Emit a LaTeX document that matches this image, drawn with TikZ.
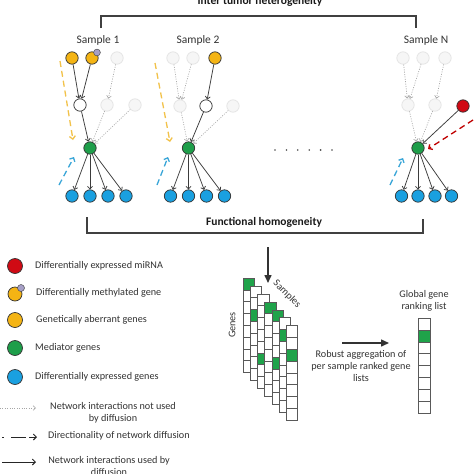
\documentclass[tikz,border=0pt]{standalone}
\usepackage{fontspec}
\setmainfont{Carlito}
\usetikzlibrary{arrows.meta}
\definecolor{cOrange}{HTML}{F4B414}
\definecolor{cGreen}{HTML}{1E9E4A}
\definecolor{cBlue}{HTML}{1AA0E0}
\definecolor{cRed}{HTML}{D00A14}
\definecolor{cPurple}{HTML}{A69FC6}
\definecolor{cYellowDash}{HTML}{F2C24A}
\definecolor{cCyanDash}{HTML}{3AA6D8}
\definecolor{cRedDash}{HTML}{C00000}
\definecolor{cLine}{HTML}{3C3C3C}
\definecolor{cCellGreen}{HTML}{1FA34A}
\tikzset{
  gene/.style={circle, minimum size=12.4pt, inner sep=0pt, draw=black!80, line width=0.7pt},
  og/.style={gene, fill=cOrange},
  gg/.style={gene, fill=cGreen},
  bg/.style={gene, fill=cBlue},
  rg/.style={gene, fill=cRed},
  wg/.style={gene, fill=white},
  fg/.style={gene, fill=gray!7, draw=gray!22},
  mg/.style={circle, minimum size=6.8pt, inner sep=0pt, draw=black!70, line width=0.5pt, fill=cPurple},
  edge/.style={draw=cLine, line width=0.75pt, -{Straight Barb[length=2.6pt,width=5pt]}},
  dedge/.style={draw=gray!70, line width=0.65pt, dash pattern=on 1pt off 1.4pt, -{Straight Barb[length=2.4pt,width=4.6pt]}},
  flowarrow/.style={line width=1.3pt, dash pattern=on 6pt off 4pt, -{Straight Barb[length=3pt,width=6pt]}},
  bracket/.style={draw=black!75, line width=1.3pt},
  cell/.style={draw=black!65, fill=white, line width=0.6pt},
  gcell/.style={draw=black!65, fill=cCellGreen, line width=0.6pt},
  lab/.style={font=\fontsize{11.5}{13}\selectfont, text=black!80, inner sep=0pt},
  head/.style={font=\fontsize{11.5}{13}\selectfont\bfseries, text=black!90, inner sep=0pt},
  txt/.style={font=\fontsize{10.2}{12.4}\selectfont, text=black!80, inner sep=0pt},
  bigarrow/.style={draw=black!80, line width=1.5pt, -{Triangle[length=8pt,width=7pt]}},
}
\begin{document}
\begin{tikzpicture}[x=1pt,y=-1pt]
\useasboundingbox (0,0) rectangle (474,474);
\fill[white] (0,0) rectangle (474,474);

% headings and brackets
\node[head] (hTop) at (260,1.5) {Inter tumor heterogeneity};
\draw[bracket] (101,28) -- (101,16) -- (416,16) -- (416,28);
\node[head] (hBot) at (264,222) {Functional homogeneity};
\draw[bracket] (87,217) -- (87,233) -- (423,233) -- (423,219);

% sample labels
\node[lab] (t1) at (98,40) {Sample 1};
\node[lab] (t2) at (198,40) {Sample 2};
\node[lab] (tN) at (426,40) {Sample N};

% ---------- Sample 1 ----------
\node[og] (s1o1) at (72,58) {};
\node[og] (s1o2) at (92,58) {};
\node[mg] (s1m) at (97,52.5) {};
\node[fg] (s1g1) at (117,58) {};
\node[wg] (s1w) at (80,105) {};
\node[fg] (s1g2) at (107,105) {};
\node[fg] (s1g3) at (135,105) {};
\node[gg] (s1c) at (90,148) {};
\foreach \k/\x in {1/72,2/90,3/108,4/126} \node[bg] (s1b\k) at (\x,196) {};
\draw[edge] (s1o1) -- (s1w);
\draw[edge] (s1o2) -- (s1w);
\draw[edge] (s1w) -- (s1c);
\draw[dedge] (s1g1) -- (s1g2);
\draw[dedge] (s1g2) -- (s1c);
\draw[dedge] (s1g3) -- (s1c);
\foreach \k in {1,...,4} \draw[edge] (s1c) -- (s1b\k);
\coordinate (y1a) at (60,61);
\coordinate (y1b) at (73,140);
\draw[flowarrow, cYellowDash] (y1a) -- (y1b);
\coordinate (c1a) at (59,185);
\coordinate (c1b) at (74,157);
\draw[flowarrow, cCyanDash] (c1a) -- (c1b);

% ---------- Sample 2 ----------
\node[fg] (s2g1) at (173,58) {};
\node[fg] (s2g2) at (193,58) {};
\node[og] (s2o) at (215,58) {};
\node[fg] (s2g3) at (180,106) {};
\node[wg] (s2w) at (206,106) {};
\node[fg] (s2g4) at (233,106) {};
\node[gg] (s2c) at (188.5,148) {};
\foreach \k/\x in {1/170.5,2/188.5,3/206.5,4/224.5} \node[bg] (s2b\k) at (\x,196) {};
\draw[dedge] (s2g1) -- (s2g3);
\draw[dedge] (s2g2) -- (s2g3);
\draw[edge] (s2o) -- (s2w);
\draw[edge] (s2w) -- (s2c);
\draw[dedge] (s2g3) -- (s2c);
\draw[dedge] (s2g4) -- (s2c);
\foreach \k in {1,...,4} \draw[edge] (s2c) -- (s2b\k);
\coordinate (y2a) at (155,63);
\coordinate (y2b) at (170,142);
\draw[flowarrow, cYellowDash] (y2a) -- (y2b);
\coordinate (c2a) at (157,185);
\coordinate (c2b) at (168,157);
\draw[flowarrow, cCyanDash] (c2a) -- (c2b);

% dots
\foreach \k in {0,...,5} \fill[black!70] (275+11.4*\k,150) circle (0.9);

% ---------- Sample N ----------
\node[fg] (sng1) at (403,58) {};
\node[fg] (sng2) at (423,58) {};
\node[fg] (sng3) at (445,58) {};
\node[fg] (sng4) at (408,105) {};
\node[fg] (sng5) at (435,105) {};
\node[rg] (snr) at (463,106) {};
\node[gg] (snc) at (418,148) {};
\foreach \k/\x in {1/401.5,2/418,3/435,4/451.5} \node[bg] (snb\k) at (\x,196) {};
\draw[dedge] (sng1) -- (sng4);
\draw[dedge] (sng2) -- (sng4);
\draw[dedge] (sng3) -- (sng5);
\draw[dedge] (sng4) -- (snc);
\draw[dedge] (sng5) -- (snc);
\draw[edge] (snr) -- (snc);
\foreach \k in {1,...,4} \draw[edge] (snc) -- (snb\k);
\coordinate (rNa) at (473,120);
\coordinate (rNb) at (428,149);
\draw[flowarrow, cRedDash] (rNa) -- (rNb);
\coordinate (cNa) at (390,185);
\coordinate (cNb) at (403,158);
\draw[flowarrow, cCyanDash] (cNa) -- (cNb);

% ---------- Legend ----------
\node[gene, minimum size=15pt, fill=cRed] (lr) at (15,266) {};
\node[txt, anchor=west] (lrt) at (35,266) {Differentially expressed miRNA};
\node[gene, minimum size=14pt, fill=cOrange] (lm) at (15,294) {};
\node[mg, minimum size=7pt] (lmp) at (21,288) {};
\node[txt, anchor=west] (lmt) at (36,293) {Differentially methylated gene};
\node[gene, minimum size=15pt, fill=cOrange] (lo) at (15,320) {};
\node[txt, anchor=west] (lot) at (36,320) {Genetically aberrant genes};
\node[gene, minimum size=15pt, fill=cGreen] (lg) at (15,348) {};
\node[txt, anchor=west] (lgt) at (35,348) {Mediator genes};
\node[gene, minimum size=15pt, fill=cBlue] (lb) at (15,377) {};
\node[txt, anchor=west] (lbt) at (35,377) {Differentially expressed genes};

\coordinate (ld1a) at (0,408);
\coordinate (ld1b) at (36,408);
\draw[dedge] (ld1a) -- (ld1b);
\node[txt, align=center] (ld1t) at (113,413) {Network interactions not used\\by diffusion};
\coordinate (ld2a) at (2,437);
\coordinate (ld2b) at (37,437);
\draw[draw=black!85, line width=0.9pt, dash pattern=on 2pt off 7pt on 15pt off 3pt on 10pt off 1pt, -{Straight Barb[length=3pt,width=6pt]}] (ld2a) -- (ld2b);
\node[txt, anchor=west] (ld2t) at (48,436) {Directionality of network diffusion};
\coordinate (ld3a) at (2,462);
\coordinate (ld3b) at (36,462);
\draw[draw=black!85, line width=0.9pt, -{Straight Barb[length=3pt,width=6pt]}] (ld3a) -- (ld3b);
\node[txt, align=center] (ld3t) at (109,466) {Network interactions used by\\diffusion};

% ---------- Ranked lists ----------
\coordinate (da) at (268,247);
\coordinate (db) at (268,283);
\draw[bigarrow] (da) -- (db);
\foreach \i/\gl in {0/{0},1/{2},2/{5},3/{0},4/{0,4},5/{1},6/{2}} {
  \foreach \j in {0,...,7} {
    \draw[cell] (243+7.2*\i, 278+7.95*\i+11.8*\j) rectangle ++(11.5,11.8);
  }
  \foreach \j in \gl {
    \draw[gcell] (243+7.2*\i, 278+7.95*\i+11.8*\j) rectangle ++(11.5,11.8);
  }
}
\node[txt, rotate=-45] (samp) at (287,294) {Samples};
\node[txt, rotate=90] (genes) at (232,325) {Genes};

\coordinate (ra) at (342,343);
\coordinate (rb) at (389,343);
\draw[bigarrow] (ra) -- (rb);
\node[txt, align=center] (rtext) at (361,366) {Robust aggregation of\\per sample ranked gene\\lists};

\node[txt, align=center] (gtext) at (424,301) {Global gene\\ranking list};
\foreach \j in {0,...,7} {
  \draw[cell] (418, 318+11.9*\j) rectangle ++(12,11.9);
}
\draw[gcell] (418, 318+11.9) rectangle ++(12,11.9);
\end{tikzpicture}
\end{document}
